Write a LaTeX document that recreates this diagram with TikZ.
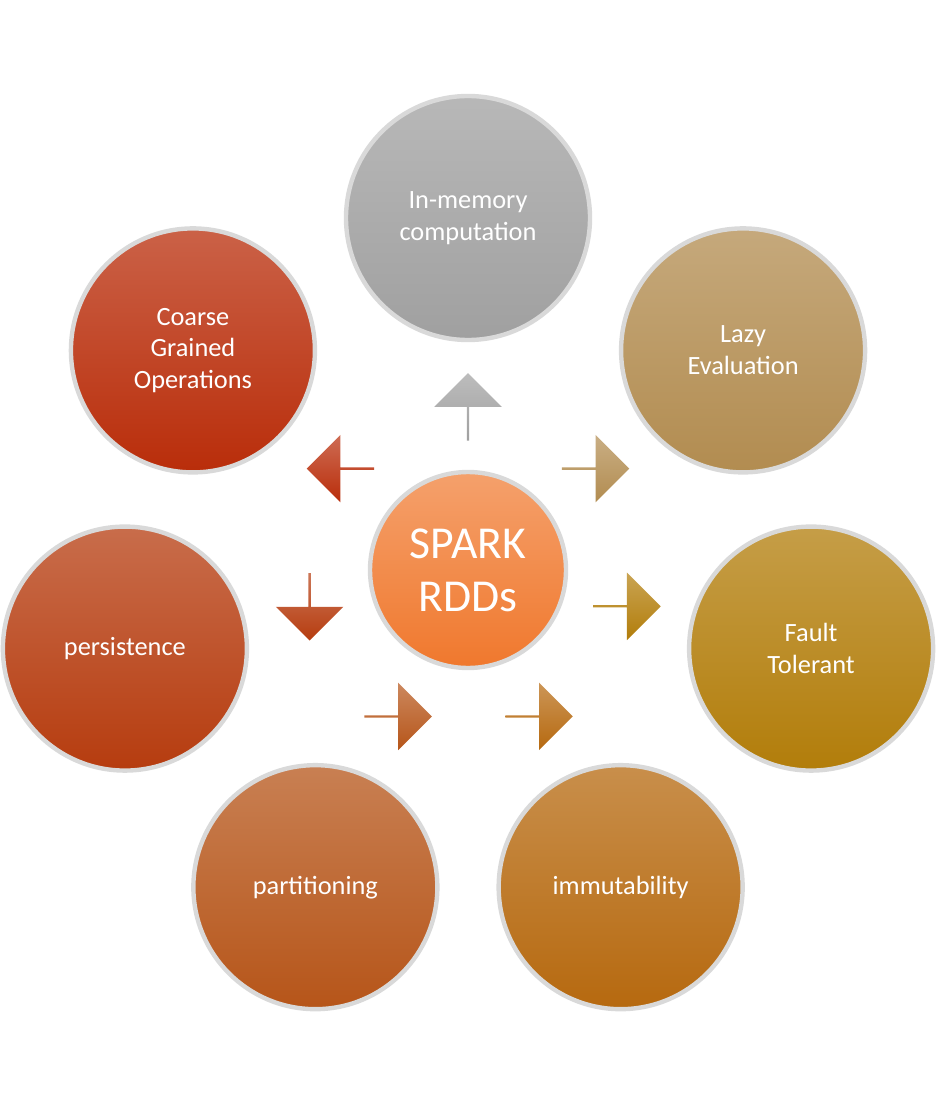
\documentclass[tikz,border=0pt]{standalone}
\usepackage{fontspec}
\setmainfont{Carlito}
\usetikzlibrary{positioning,shapes.arrows,calc}
\definecolor{cGray}{RGB}{160,160,160}
\definecolor{cLazy}{RGB}{178,140,80}
\definecolor{cFault}{RGB}{178,125,10}
\definecolor{cImmu}{RGB}{182,105,15}
\definecolor{cPart}{RGB}{182,85,25}
\definecolor{cPers}{RGB}{182,60,15}
\definecolor{cCoar}{RGB}{185,45,10}
\definecolor{cCore}{RGB}{240,120,45}
\begin{document}
\begin{tikzpicture}[
		feature/.style={
			circle, draw=white!85!black, line width=2.5pt, minimum size=4.88cm,
			align=center, text=white, font=\fontsize{15}{18}\selectfont
		},
		core/.style={
			circle, draw=white!85!black, line width=2.5pt, minimum size=3.92cm,
			align=center, text=white, font=\fontsize{26}{30}\selectfont,
			top color=cCore!70!white, bottom color=cCore
		},
		pointer/.style={
			single arrow, minimum height=1.35cm, minimum width=1.35cm,
			single arrow head extend=0.2cm, inner sep=0pt
		},
		]
		\useasboundingbox (0,0) rectangle (18.76,-22.12);
		% centre
		\node [core] (rdd) at (9.36,-11.4) {SPARK\\RDDs};
		
		% features around the centre
		\foreach \ang/\nm/\txt/\col in {
			90/memory/{In-memory\\computation}/cGray,
			38.6/lazy/{Lazy\\Evaluation}/cLazy,
			-12.9/fault/{Fault\\Tolerant}/cFault,
			-64.3/immut/immutability/cImmu,
			-115.7/part/partitioning/cPart,
			-167.1/pers/persistence/cPers,
			141.4/coarse/{Coarse\\Grained\\Operations}/cCoar}
		{
			\node [feature, top color=\col!75!white, bottom color=\col] (\nm) at ($(rdd)+(\ang:7.04)$) {\txt};
			\node [pointer, shape border rotate=\ang, top color=\col!70!white, bottom color=\col] (arr-\nm) at ($(rdd)+(\ang:3.25)$) {};
		}
	\end{tikzpicture}
\end{document}
